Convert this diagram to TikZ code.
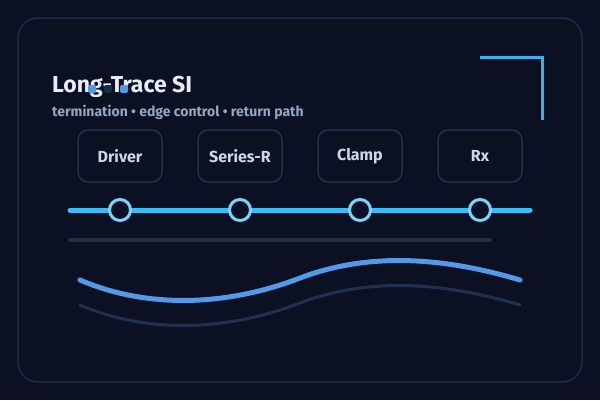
\documentclass[tikz,border=0pt]{standalone}
\usepackage{fontspec}
\setmainfont{Fira Sans}
\definecolor{bg}{HTML}{0B1022}
\definecolor{frame}{HTML}{1F2A44}
\definecolor{titlec}{HTML}{E6EDF7}
\definecolor{subc}{HTML}{94A6C2}
\definecolor{boxc}{HTML}{24314D}
\definecolor{boxtext}{HTML}{CDD8E6}
\definecolor{wire}{HTML}{38BDF8}
\definecolor{ring}{HTML}{7DD3FC}
\definecolor{bar}{HTML}{223049}
\definecolor{wave}{HTML}{5299E8}
\definecolor{wavedim}{HTML}{22304F}
\definecolor{accent}{HTML}{38B2EE}
\definecolor{dotdim}{HTML}{1E2A44}
\tikzset{
  stagebox/.style={draw=boxc, line width=1.5pt, rounded corners=10pt, minimum width=84pt, minimum height=52pt, inner sep=0pt, text=boxtext, font=\fontsize{16}{19}\selectfont\bfseries},
  tap/.style={circle, draw=ring, fill=bg, line width=3pt, minimum size=21pt, inner sep=0pt},
  sq/.style={rounded corners=2pt, minimum size=8pt, inner sep=0pt}
}
\begin{document}
\begin{tikzpicture}[x=1pt,y=-1pt]
\fill[bg] (0,0) rectangle (600,400);
\useasboundingbox (0,0) rectangle (600,400);
\draw[frame, line width=1.5pt, rounded corners=20pt] (18,18) rectangle (582,382);
% corner accent
\coordinate (ca) at (480,57);
\coordinate (cb) at (542,57);
\coordinate (cc) at (542,120);
\draw[accent, line width=3pt] (ca) -- (cb) -- (cc);
% title
\node[anchor=base west, inner sep=0pt, text=titlec, font=\fontsize{23}{26}\selectfont\bfseries] (title) at (52,92) {Long-Trace SI};
\node[anchor=base west, inner sep=0pt, text=subc, font=\fontsize{14}{16}\selectfont\bfseries] (sub) at (52,116) {termination • edge control • return path};
% small squares
\node[sq, fill=wave] (s1) at (92,89) {};
\node[sq, fill=dotdim] (s2) at (108,89) {};
\node[sq, fill=wave] (s3) at (124,89) {};
% boxes
\node[stagebox] (b1) at (120,156) {Driver};
\node[stagebox] (b2) at (240,156) {Series-R};
\node[stagebox] (b3) at (360,156) {Clamp};
\node[stagebox] (b4) at (480,156) {Rx};
% wire
\coordinate (w0) at (70,210);
\coordinate (w1) at (530,210);
\draw[wire, line width=5pt, line cap=round] (w0) -- (w1);
\node[tap] (t1) at (120,210) {};
\node[tap] (t2) at (240,210) {};
\node[tap] (t3) at (360,210) {};
\node[tap] (t4) at (480,210) {};
% bar
\coordinate (g0) at (70,240);
\coordinate (g1) at (490,240);
\draw[bar, line width=4pt, line cap=round] (g0) -- (g1);
% waves
\draw[wavedim, line width=3pt, line cap=round] (80,305) .. controls (150,335) and (230,330) .. (300,303) .. controls (350,284) and (420,275) .. (520,305);
\draw[wave, line width=5pt, line cap=round] (80,280) .. controls (150,310) and (230,305) .. (300,278) .. controls (350,259) and (420,250) .. (520,280);
\end{tikzpicture}
\end{document}
